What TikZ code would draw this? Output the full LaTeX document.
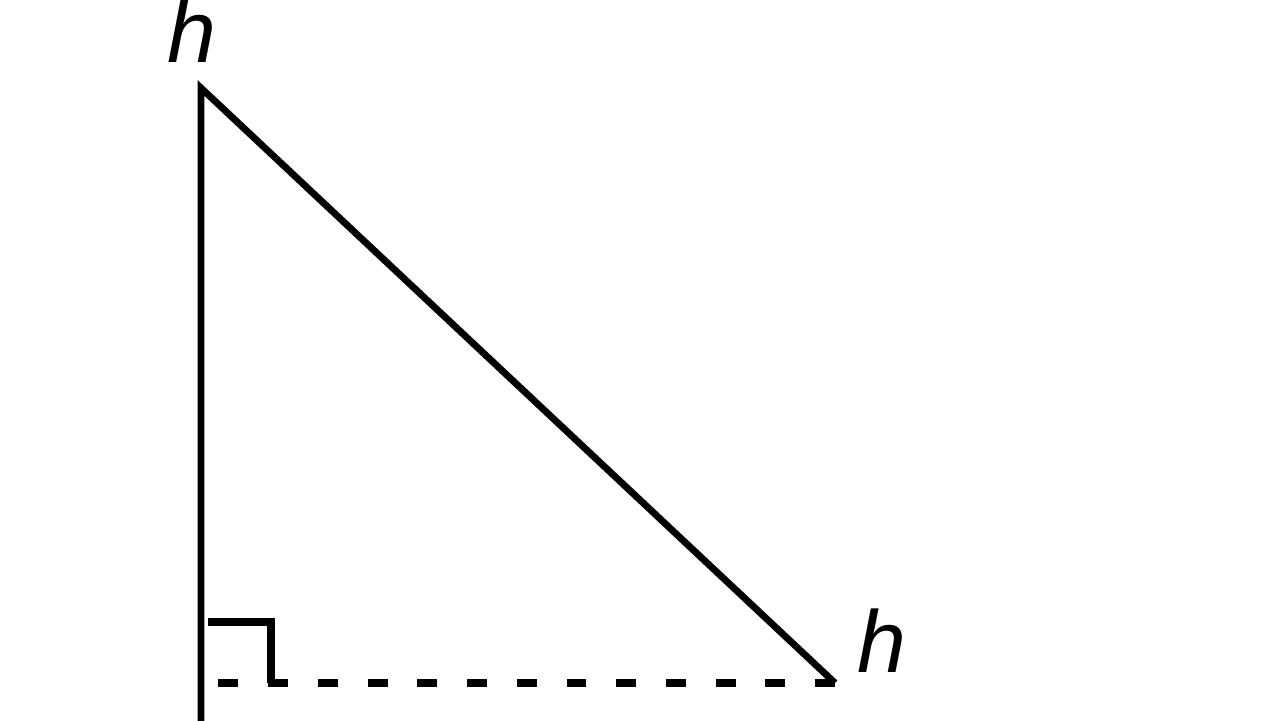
\documentclass[tikz,border=0pt]{standalone}
\usepackage{fontspec}
\setmainfont{Liberation Sans}
\usetikzlibrary{positioning,calc}

\tikzset{
    side/.style = {line width = 3.9pt, line join = miter},
    hidden/.style = {line width = 4pt, dash pattern = on 11.3pt off 17pt},
    corner/.style = {line width = 4.4pt},
    vlabel/.style = {font = \fontsize{50}{50}\selectfont\itshape, inner sep = 0pt, anchor = base}
}

\begin{document}
\begin{tikzpicture}[x = 0.02cm, y = -0.02cm]

    \useasboundingbox (0, 0) rectangle (1280, 720);

    % corners of the triangle
    \coordinate (apex) at (201, 88);
    \coordinate (floor) at (201, 725);
    \coordinate (tip) at (835, 683);
    \coordinate (base) at (215, 683);

    \draw [side] (floor) -- (apex) -- (tip);
    \draw [hidden] (tip) -- (base);

    % right angle mark
    \coordinate (m1) at (208, 622);
    \coordinate (m2) at (271, 622);
    \coordinate (m3) at (271, 683);
    \draw [corner] (m1) -- (m2) -- (m3);

    \node [vlabel] (htop) at (192, 62) {h};
    \node [vlabel] (hright) at (882, 672) {h};

\end{tikzpicture}
\end{document}
